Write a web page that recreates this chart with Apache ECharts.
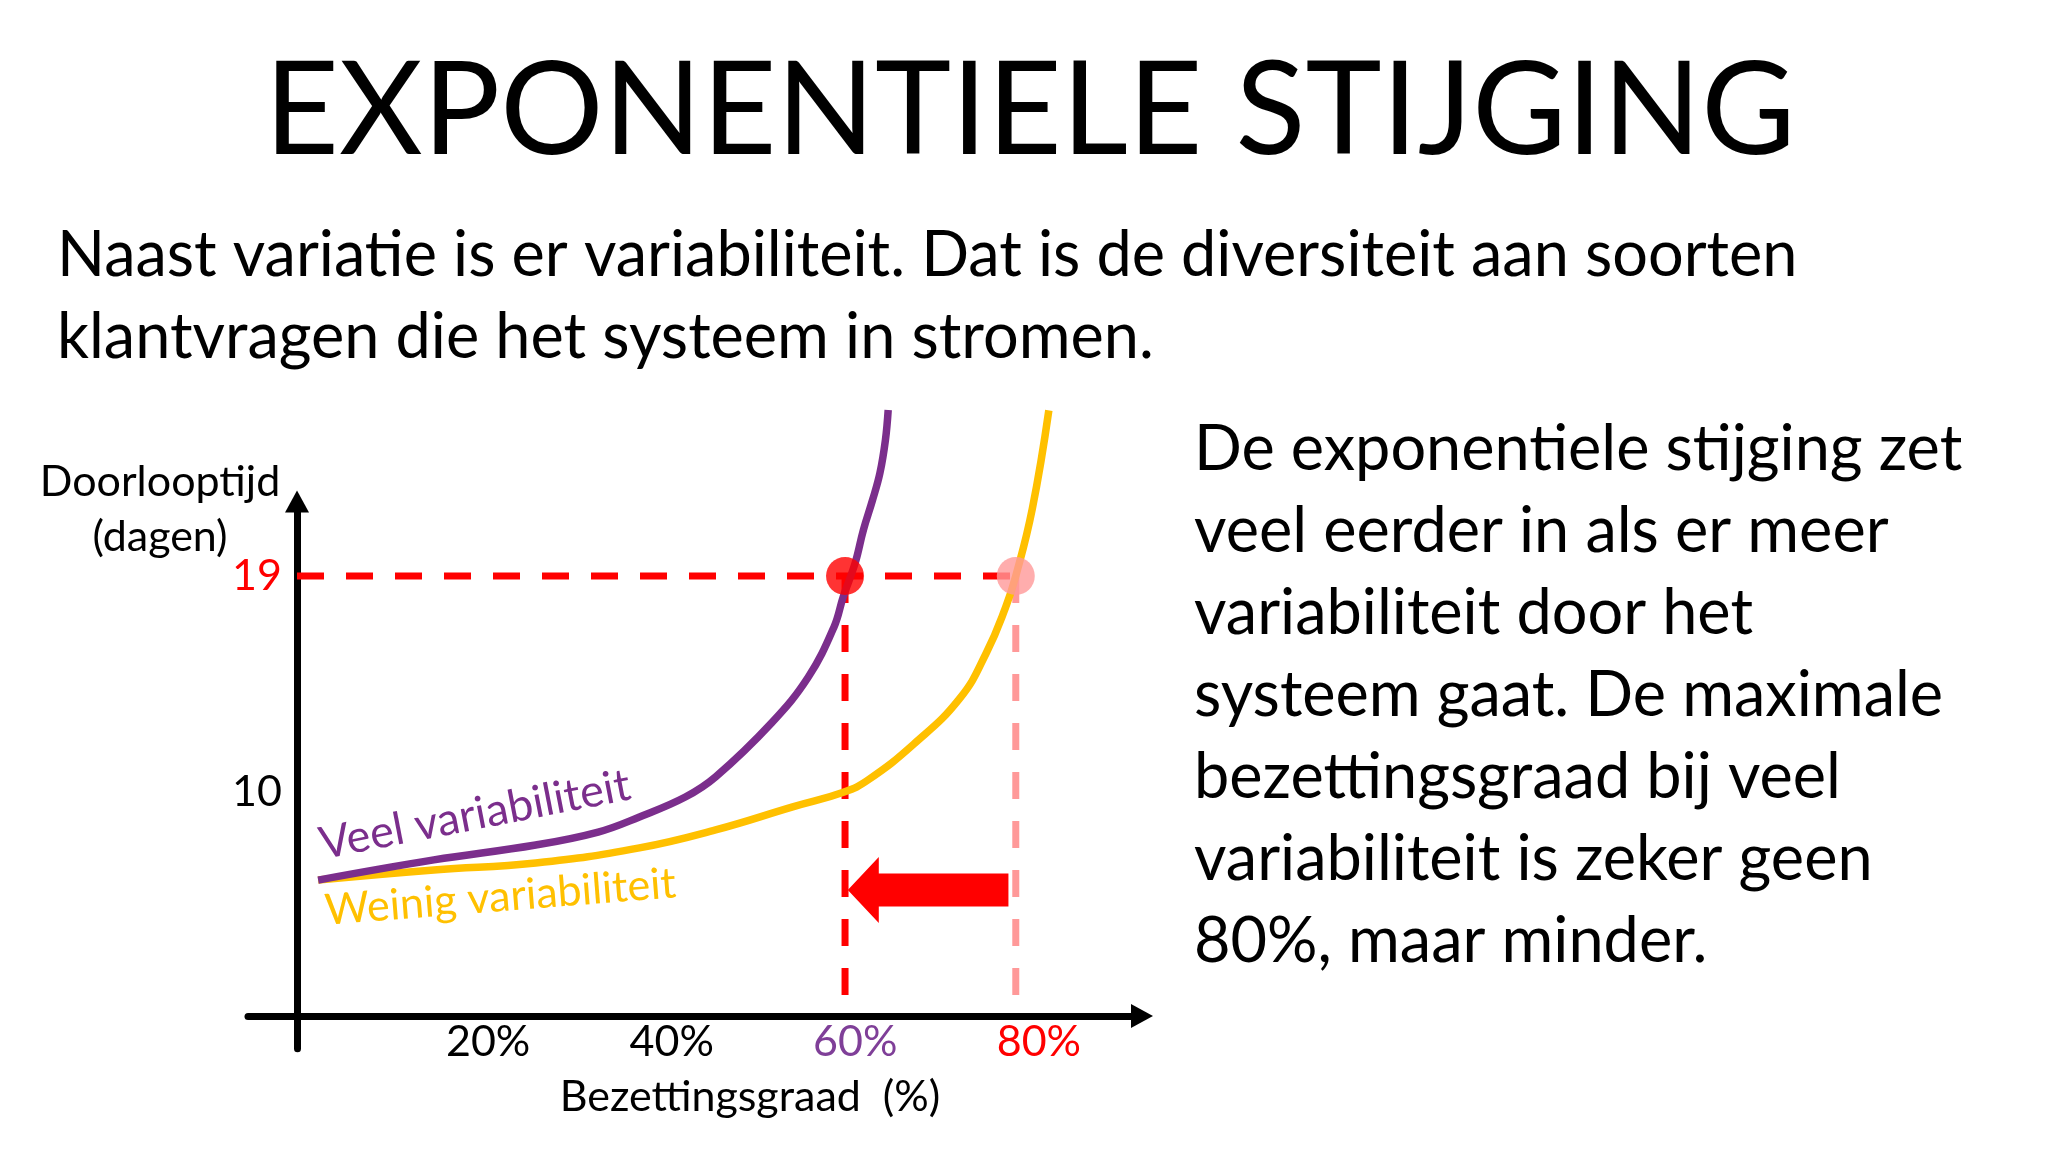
<!DOCTYPE html>
<html>
<head>
<meta charset="utf-8">
<script src="https://cdn.jsdelivr.net/npm/echarts@6/dist/echarts.min.js"></script>
<style>
  html, body { margin: 0; padding: 0; background: #fff; }
  #chart { width: 2048px; height: 1152px; }
</style>
</head>
<body>
<div id="chart"></div>
<script>
const titel = 'EXPONENTIELE STIJGING'
const introRegels = [
  'Naast variatie is er variabiliteit. Dat is de diversiteit aan soorten',
  'klantvragen die het systeem in stromen.',
]
const uitlegRegels = [
  'De exponentiele stijging zet',
  'veel eerder in als er meer',
  'variabiliteit door het',
  'systeem gaat. De maximale',
  'bezettingsgraad bij veel',
  'variabiliteit is zeker geen',
  '80%, maar minder.',
]

const veelX = [2.3, 14.9, 26.0, 32.8, 37.3, 42.3, 45.6, 51.7, 55.7, 58.5, 59.5, 60.8, 61.7, 62.7, 63.5, 64.1, 64.4]
const veelY = [6.33, 7.17, 7.79, 8.33, 8.96, 9.79, 10.63, 12.88, 14.79, 16.88, 18.13, 19.54, 20.92, 22.17, 23.29, 24.67, 25.92]
const weinigX = [2.3, 14.9, 26.0, 37.3, 45.6, 54.0, 59.6, 62.2, 67.2, 72.2, 75.1, 77.2, 78.3, 80.1, 81.9]
const weinigY = [6.33, 6.75, 7.04, 7.67, 8.42, 9.38, 10.0, 10.5, 12.0, 13.9, 15.8, 17.7, 19.0, 21.8, 25.9]

const xTicks = [20, 40, 60, 80]
const yTicks = [10, 19]
const puntVeel = [59.7, 19]
const puntWeinig = [78.3, 19]
const onderkantStreep = 1.21
const pijlVan = [77.5, 5.92]
const pijlNaar = [60.0, 5.92]

const paars = '#7B2E8C'
const geel = '#FFC000'
const rood = '#FF0000'
const roze = '#FF9999'
const font = 'Lato'

const chart = echarts.init(document.getElementById('chart'))

const xLabelKleur = { 60: '#7F3F98', 80: rood }
const streep = [27, 22]

chart.setOption({
  animation: false,
  backgroundColor: '#fff',
  grid: {
    left: 248,
    top: 501.6,
    width: 894,
    height: 547.2,
    containLabel: false,
    outerBoundsMode: 'none',
  },
  xAxis: {
    type: 'value',
    min: -5.34,
    max: 92.05,
    offset: -32.8,
    axisLine: {
      onZero: false,
      symbol: ['none', 'triangle'],
      symbolSize: [24, 22],
      lineStyle: { color: '#000', width: 7 },
    },
    axisTick: { show: false },
    splitLine: { show: false },
    axisLabel: {
      customValues: xTicks,
      margin: 5,
      padding: [0, 0, 0, 15],
      fontFamily: font,
      fontSize: 43,
      formatter: (v) => v + '%',
      color: (v) => xLabelKleur[v] || '#000',
    },
  },
  yAxis: {
    type: 'value',
    min: -0.7,
    max: 22.1,
    axisLine: {
      onZero: true,
      symbol: ['none', 'triangle'],
      symbolSize: [24, 22],
      lineStyle: { color: '#000', width: 7 },
    },
    axisTick: { show: false },
    splitLine: { show: false },
    axisLabel: {
      customValues: yTicks,
      margin: -34,
      fontFamily: font,
      fontSize: 43,
      color: (v) => (v == 19 ? rood : '#000'),
    },
  },
  series: [
    {
      type: 'line',
      data: [[0, 19], puntWeinig],
      symbol: 'none',
      silent: true,
      z: 1,
      lineStyle: { color: rood, width: 7, type: streep },
    },
    {
      type: 'line',
      data: [puntVeel, [puntVeel[0], onderkantStreep]],
      symbol: 'none',
      silent: true,
      z: 1,
      lineStyle: { color: rood, width: 7, type: streep },
    },
    {
      type: 'line',
      data: [puntWeinig, [puntWeinig[0], onderkantStreep]],
      symbol: 'none',
      silent: true,
      z: 1,
      lineStyle: { color: roze, width: 7, type: streep },
    },
    {
      name: 'Weinig variabiliteit',
      type: 'line',
      data: weinigX.map((x, i) => [x, weinigY[i]]),
      smooth: 0.45,
      symbol: 'none',
      clip: false,
      z: 2,
      lineStyle: { color: geel, width: 7.5 },
    },
    {
      name: 'Veel variabiliteit',
      type: 'line',
      data: veelX.map((x, i) => [x, veelY[i]]),
      smooth: 0.4,
      symbol: 'none',
      clip: false,
      z: 3,
      lineStyle: { color: paars, width: 7.5 },
    },
    {
      type: 'scatter',
      data: [puntVeel],
      symbolSize: 38,
      z: 4,
      itemStyle: { color: rood },
    },
    {
      type: 'scatter',
      data: [puntWeinig],
      symbolSize: 38,
      z: 4,
      itemStyle: { color: roze },
    },
    {
      type: 'custom',
      z: 5,
      data: [[pijlVan[0], pijlVan[1], pijlNaar[0], pijlNaar[1]]],
      renderItem: (params, api) => {
        const van = api.coord([api.value(0), api.value(1)])
        const naar = api.coord([api.value(2), api.value(3)])
        const kop = 31
        const kopHalf = 33
        const romp = 16.5
        const xb = naar[0] + kop
        return {
          type: 'polygon',
          shape: {
            points: [
              [van[0], van[1] - romp],
              [xb, naar[1] - romp],
              [xb, naar[1] - kopHalf],
              naar,
              [xb, naar[1] + kopHalf],
              [xb, naar[1] + romp],
              [van[0], van[1] + romp],
            ],
          },
          style: { fill: rood },
        }
      },
    },
  ],
  graphic: [
    {
      type: 'text',
      x: 1030,
      y: 112,
      style: { text: titel, fontFamily: font, fontSize: 129, fill: '#000', align: 'center', verticalAlign: 'middle' },
    },
    {
      type: 'text',
      x: 57,
      y: 214.6,
      style: { text: introRegels.join('\n'), fontFamily: font, fontSize: 63, lineHeight: 82, fill: '#000', align: 'left', verticalAlign: 'top' },
    },
    {
      type: 'text',
      x: 1194,
      y: 408.5,
      style: { text: uitlegRegels.join('\n'), fontFamily: font, fontSize: 63, lineHeight: 82, fill: '#000', align: 'left', verticalAlign: 'top' },
    },
    {
      type: 'text',
      x: 160,
      y: 455,
      style: { text: 'Doorlooptijd\n(dagen)', fontFamily: font, fontSize: 43, lineHeight: 55, fill: '#000', align: 'center', verticalAlign: 'top' },
    },
    {
      type: 'text',
      x: 750,
      y: 1097.5,
      style: { text: 'Bezettingsgraad  (%)', fontFamily: font, fontSize: 43, fill: '#000', align: 'center', verticalAlign: 'middle' },
    },
    {
      type: 'text',
      x: 320,
      y: 845,
      rotation: (11 * Math.PI) / 180,
      style: { text: 'Veel variabiliteit', fontFamily: font, fontSize: 45, fill: paars, align: 'left', verticalAlign: 'middle' },
    },
    {
      type: 'text',
      x: 325,
      y: 911,
      rotation: (4.5 * Math.PI) / 180,
      style: { text: 'Weinig variabiliteit', fontFamily: font, fontSize: 43, fill: geel, align: 'left', verticalAlign: 'middle' },
    },
  ],
})
</script>
</body>
</html>
